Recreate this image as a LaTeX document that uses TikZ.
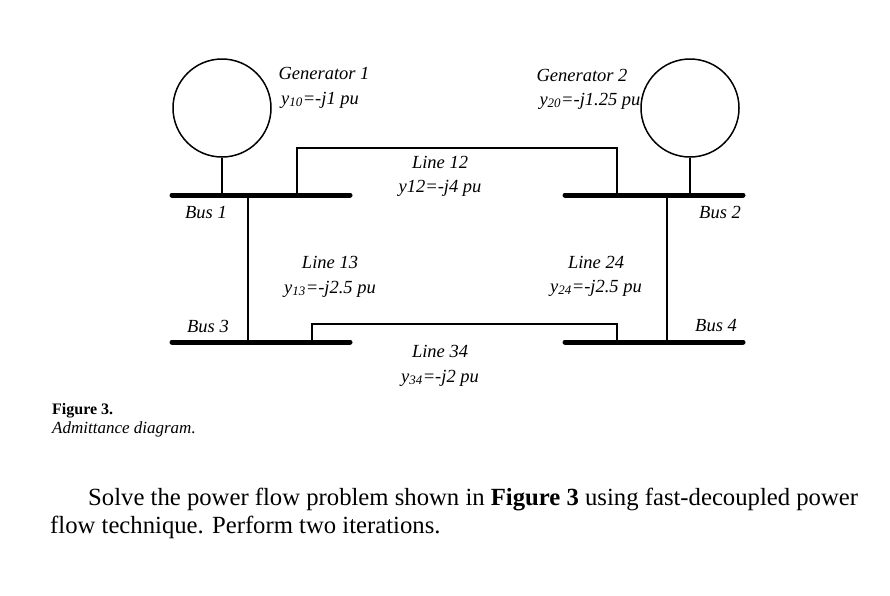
\documentclass[tikz,border=0pt]{standalone}
\usepackage{fontspec}
\setmainfont{Liberation Serif}
\newcommand{\sbs}[1]{\textsubscript{#1}}
\begin{document}
\begin{tikzpicture}[x=1pt,y=-1pt,
  bar/.style={line width=5pt,line cap=round},
  wire/.style={line width=1.2pt},
  lab/.style={font=\fontsize{18.5}{20}\selectfont\itshape,inner sep=0pt},
  par/.style={font=\fontsize{24.7}{28}\selectfont,inner sep=0pt,anchor=west}]
\useasboundingbox (0,0) rectangle (890,595);
% generators
\node[draw,line width=1.5pt,circle,minimum size=98pt,inner sep=0pt] (g1) at (222,108) {};
\node[draw,line width=1.5pt,circle,minimum size=98pt,inner sep=0pt] (g2) at (690,108) {};
% buses
\coordinate (b1l) at (172,195); \coordinate (b1r) at (350,195);
\coordinate (b2l) at (565,195); \coordinate (b2r) at (743,195);
\coordinate (b3l) at (172,342); \coordinate (b3r) at (350,342);
\coordinate (b4l) at (565,342); \coordinate (b4r) at (743,342);
\draw[bar] (b1l) -- (b1r);
\draw[bar] (b2l) -- (b2r);
\draw[bar] (b3l) -- (b3r);
\draw[bar] (b4l) -- (b4r);
\coordinate (s1) at (222,195); \coordinate (s2) at (690,195);
\draw[wire] (g1.south) -- (s1);
\draw[wire] (g2.south) -- (s2);
% line 12
\coordinate (a1) at (297,195); \coordinate (a2) at (617,195);
\draw[wire] (a1) -- (297,148) -- (617,148) -- (a2);
% line 13, 24
\coordinate (c1) at (248,195); \coordinate (c3) at (248,342);
\draw[wire] (c1) -- (c3);
\coordinate (d2) at (667,195); \coordinate (d4) at (667,342);
\draw[wire] (d2) -- (d4);
% line 34
\coordinate (e3) at (312,342); \coordinate (e4) at (617,342);
\draw[wire] (e3) -- (312,324) -- (617,324) -- (e4);
% labels
\node[lab] (tg1) at (324,73) {Generator 1};
\node[lab] (ty10) at (320,100) {y\sbs{10}=-j1 pu};
\node[lab] (tg2) at (582,75) {Generator 2};
\node[lab] (ty20) at (590,101) {y\sbs{20}=-j1.25 pu};
\node[lab] (tl12) at (440,162) {Line 12};
\node[lab] (ty12) at (440,188) {y12=-j4 pu};
\node[lab] (tb1) at (206,212) {Bus 1};
\node[lab] (tb2) at (720,212) {Bus 2};
\node[lab] (tl13) at (330,262) {Line 13};
\node[lab] (ty13) at (330,289) {y\sbs{13}=-j2.5 pu};
\node[lab] (tl24) at (596,262) {Line 24};
\node[lab] (ty24) at (596,288) {y\sbs{24}=-j2.5 pu};
\node[lab] (tb3) at (208,326) {Bus 3};
\node[lab] (tb4) at (716,326) {Bus 4};
\node[lab] (tl34) at (440,351) {Line 34};
\node[lab] (ty34) at (440,378) {y\sbs{34}=-j2 pu};
\node[inner sep=0pt,anchor=west,font=\fontsize{16}{18}\selectfont\bfseries] (fig) at (52,411) {Figure 3.};
\node[inner sep=0pt,anchor=west,font=\fontsize{17}{19}\selectfont\itshape] (cap) at (52,429) {Admittance diagram.};
\node[par] (p1) at (88,500) {Solve the power flow problem shown in \textbf{Figure 3} using fast-decoupled power};
\node[par] (p2) at (50,527) {flow technique. Perform two iterations.};
\end{tikzpicture}
\end{document}
